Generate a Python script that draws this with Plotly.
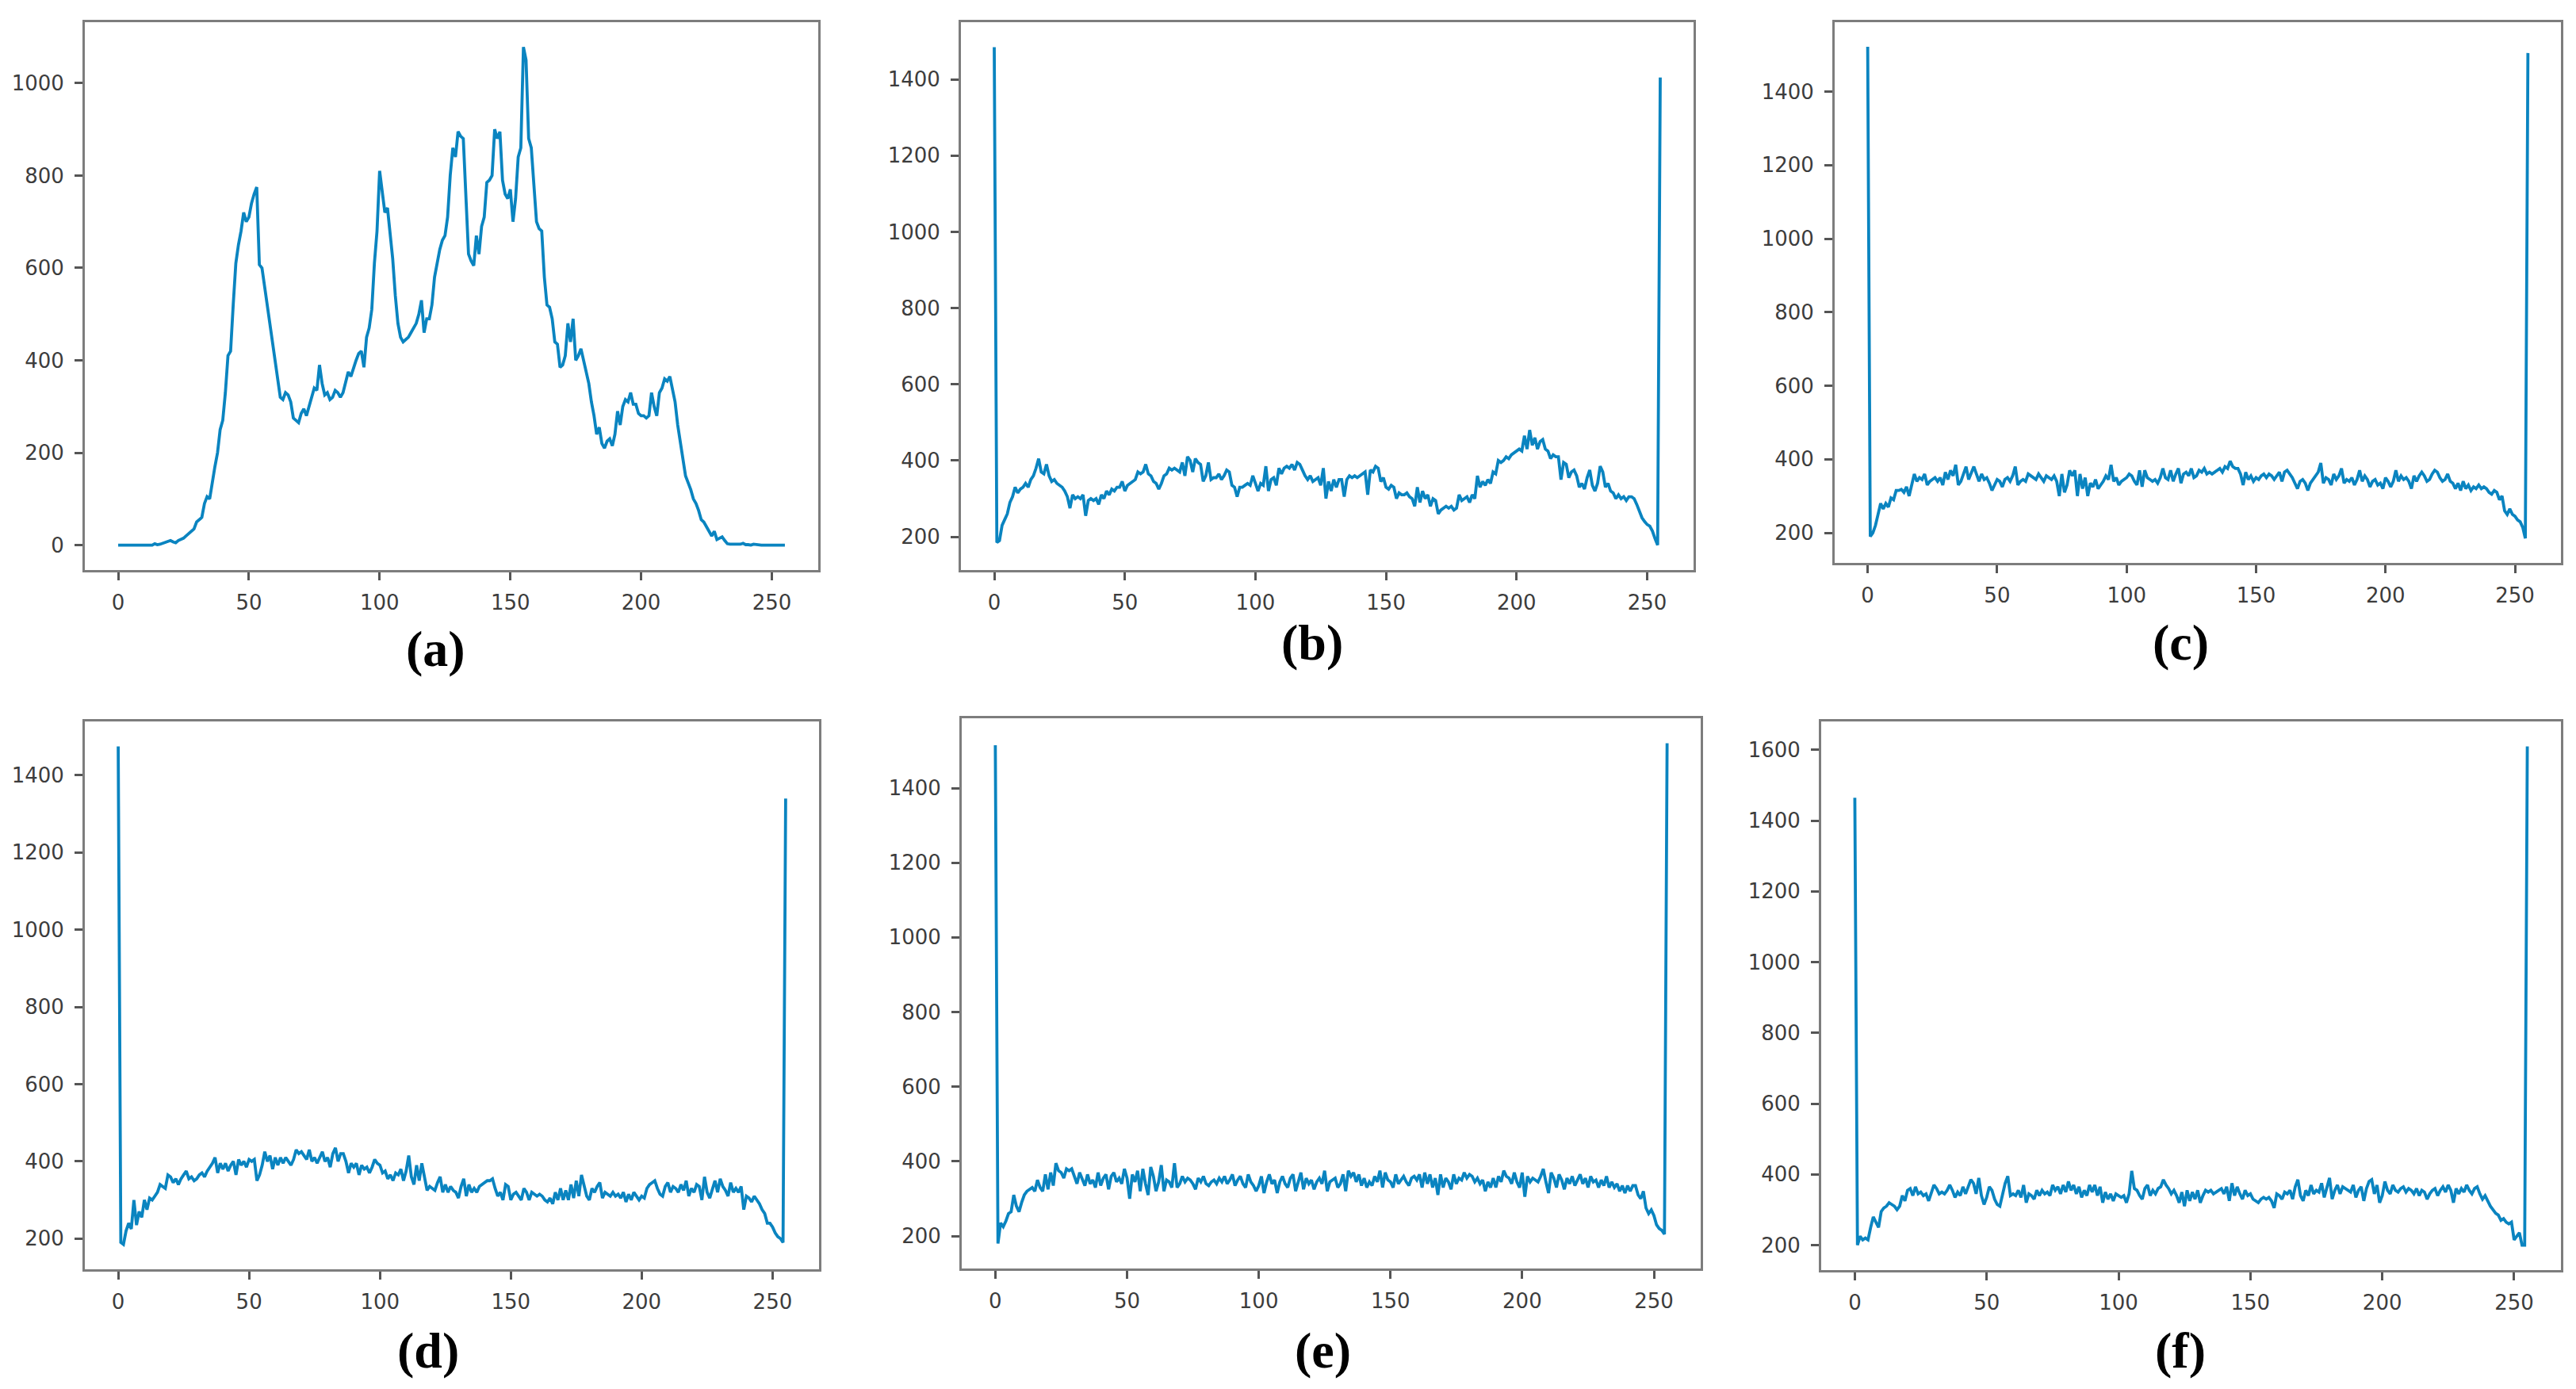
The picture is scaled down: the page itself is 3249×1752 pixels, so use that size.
import plotly.graph_objects as go

# ---------------- data (histogram counts, grey level 0..255) ----------------
hist_a = [
    0, 0, 0, 0, 0, 0, 0, 0, 0, 0, 0, 0, 0, 0, 3, 1,
    2, 4, 6, 8, 10, 7, 5, 10, 12, 15, 20, 25, 30, 35, 50, 55,
    60, 90, 105, 100, 140, 170, 200, 250, 270, 330, 410, 420, 520, 610, 650, 680,
    720, 700, 710, 740, 760, 775, 607, 600, 560, 520, 480, 430, 400, 360, 320, 315,
    330, 325, 310, 275, 270, 265, 285, 295, 280, 300, 325, 340, 335, 390, 350, 325,
    330, 315, 320, 335, 330, 320, 330, 350, 375, 365, 385, 400, 415, 420, 385, 450,
    470, 510, 610, 680, 810, 760, 720, 730, 680, 620, 540, 480, 450, 440, 445, 450,
    460, 470, 480, 500, 530, 460, 490, 490, 520, 580, 610, 640, 660, 670, 710, 800,
    860, 840, 895, 885, 880, 740, 630, 615, 605, 670, 630, 690, 710, 785, 790, 800,
    900, 880, 895, 790, 760, 750, 770, 700, 750, 840, 860, 1078, 1050, 880, 860, 780,
    700, 685, 680, 580, 520, 515, 490, 440, 435, 385, 390, 410, 480, 440, 490, 400,
    410, 425, 400, 370, 350, 310, 280, 240, 255, 220, 210, 225, 230, 215, 240, 290,
    260, 300, 315, 310, 330, 305, 305, 285, 280, 280, 275, 280, 330, 300, 280, 330,
    340, 360, 355, 365, 340, 310, 260, 220, 180, 150, 135, 120, 100, 90, 75, 55,
    50, 40, 30, 20, 30, 12, 15, 18, 10, 3, 2, 2, 3, 2, 2, 4,
    1, 1, 0, 2, 1, 0, 0, 0, 0, 0, 0, 0, 0, 0, 0, 0,
]
hist_b = [
    1485, 185, 190, 230, 245, 260, 290, 305, 330, 315, 325, 330, 340, 330, 350, 360,
    380, 405, 370, 365, 390, 360, 345, 350, 340, 335, 330, 320, 305, 275, 310, 300,
    305, 300, 310, 255, 295, 300, 295, 300, 285, 310, 300, 320, 310, 325, 320, 330,
    330, 345, 320, 335, 340, 345, 350, 370, 365, 370, 390, 365, 360, 345, 340, 325,
    340, 360, 365, 380, 375, 380, 375, 370, 395, 360, 410, 400, 370, 405, 395, 390,
    345, 360, 395, 350, 355, 355, 365, 350, 360, 375, 370, 335, 330, 305, 330, 330,
    335, 340, 335, 360, 340, 320, 340, 335, 385, 320, 350, 355, 335, 380, 365, 380,
    385, 380, 390, 375, 395, 390, 375, 360, 350, 360, 345, 350, 355, 335, 380, 300,
    345, 320, 350, 330, 350, 350, 305, 350, 360, 355, 360, 355, 360, 365, 370, 310,
    375, 370, 385, 380, 345, 355, 330, 325, 335, 330, 300, 315, 310, 310, 315, 305,
    300, 280, 330, 290, 320, 300, 310, 280, 300, 295, 260, 270, 275, 280, 275, 280,
    270, 275, 310, 295, 300, 305, 290, 310, 300, 360, 330, 345, 335, 350, 340, 370,
    365, 400, 395, 400, 410, 405, 415, 420, 425, 430, 425, 465, 430, 480, 440, 460,
    430, 450, 455, 430, 425, 405, 415, 410, 410, 350, 395, 390, 355, 370, 375, 360,
    330, 340, 325, 355, 375, 335, 320, 340, 385, 370, 330, 340, 320, 315, 300, 310,
    300, 305, 295, 305, 305, 300, 285, 265, 250, 240, 232, 228, 215, 195, 178, 1405,
]
hist_c = [
    1522, 190, 200, 220, 250, 280, 265, 280, 270, 295, 290, 315, 315, 318, 310, 325,
    300, 330, 360, 340, 350, 345, 360, 330, 340, 345, 350, 340, 350, 330, 365, 345,
    370, 355, 385, 330, 340, 360, 380, 345, 365, 380, 360, 340, 360, 345, 350, 335,
    315, 330, 345, 340, 325, 345, 350, 340, 355, 380, 330, 340, 345, 340, 360, 355,
    350, 345, 360, 350, 340, 355, 350, 345, 355, 340, 300, 360, 310, 330, 370, 355,
    370, 300, 360, 320, 350, 300, 335, 325, 345, 320, 330, 340, 355, 345, 385, 340,
    350, 330, 340, 345, 350, 360, 355, 340, 330, 370, 325, 370, 350, 345, 340, 345,
    335, 350, 375, 350, 345, 370, 340, 360, 375, 335, 360, 365, 355, 375, 350, 355,
    370, 365, 375, 360, 365, 360, 365, 370, 375, 365, 380, 375, 395, 380, 375, 375,
    360, 330, 365, 345, 355, 340, 350, 345, 355, 360, 350, 360, 355, 345, 355, 365,
    340, 365, 370, 360, 350, 335, 320, 340, 345, 335, 315, 335, 345, 355, 365, 390,
    335, 350, 345, 330, 360, 345, 355, 375, 335, 345, 340, 350, 330, 345, 370, 340,
    355, 345, 325, 340, 345, 330, 335, 320, 350, 340, 325, 340, 370, 340, 355, 345,
    350, 340, 320, 355, 340, 355, 365, 355, 340, 345, 360, 370, 365, 350, 340, 345,
    360, 340, 335, 320, 335, 315, 340, 320, 330, 315, 325, 320, 330, 320, 325, 320,
    310, 305, 315, 310, 290, 300, 260, 250, 265, 250, 245, 235, 230, 215, 185, 1505,
]
hist_d = [
    1475, 190, 185, 220, 240, 225, 300, 235, 270, 255, 300, 275, 305, 300, 310, 320,
    340, 335, 330, 365, 360, 345, 355, 340, 355, 365, 375, 355, 360, 350, 355, 365,
    370, 360, 375, 385, 395, 410, 370, 395, 380, 395, 375, 390, 400, 365, 405, 390,
    400, 385, 405, 400, 405, 350, 365, 390, 425, 400, 415, 380, 410, 390, 410, 395,
    410, 400, 390, 405, 430, 420, 425, 415, 405, 430, 400, 410, 395, 410, 425, 400,
    410, 385, 420, 435, 400, 420, 420, 400, 370, 395, 385, 395, 365, 390, 380, 385,
    370, 385, 405, 395, 390, 370, 375, 355, 365, 350, 370, 365, 380, 350, 375, 415,
    360, 340, 390, 350, 395, 360, 325, 335, 330, 325, 345, 360, 320, 340, 320, 335,
    325, 320, 305, 335, 355, 310, 340, 320, 330, 320, 335, 340, 345, 350, 350, 355,
    330, 310, 320, 300, 340, 335, 300, 315, 320, 310, 300, 330, 320, 300, 320, 315,
    310, 315, 310, 300, 295, 305, 290, 320, 300, 330, 300, 325, 300, 340, 305, 350,
    310, 365, 340, 310, 300, 330, 320, 335, 345, 305, 320, 315, 310, 320, 310, 315,
    305, 320, 295, 315, 300, 320, 310, 300, 310, 305, 330, 340, 345, 350, 330, 315,
    310, 335, 345, 320, 335, 330, 320, 340, 325, 350, 310, 330, 320, 340, 335, 300,
    360, 320, 305, 330, 350, 320, 355, 335, 325, 310, 345, 320, 330, 320, 335, 275,
    310, 305, 295, 310, 300, 290, 275, 265, 240, 240, 230, 215, 205, 200, 190, 1340,
]
hist_e = [
    1515, 180, 235, 225, 240, 260, 265, 310, 280, 265, 290, 310, 320, 325, 330, 320,
    350, 330, 320, 365, 325, 370, 335, 395, 375, 370, 355, 380, 375, 380, 360, 340,
    370, 350, 335, 365, 340, 350, 330, 370, 335, 355, 365, 325, 360, 370, 345, 355,
    340, 380, 355, 300, 365, 345, 375, 320, 380, 340, 310, 385, 360, 320, 345, 390,
    320, 350, 345, 330, 395, 330, 340, 360, 345, 355, 350, 340, 325, 355, 345, 360,
    340, 335, 345, 350, 340, 355, 345, 360, 340, 350, 365, 335, 350, 360, 340, 330,
    365, 345, 335, 320, 335, 360, 315, 345, 365, 340, 350, 315, 345, 360, 340, 330,
    355, 365, 320, 345, 370, 325, 355, 340, 350, 325, 345, 355, 340, 375, 320, 345,
    350, 355, 330, 340, 365, 320, 375, 360, 370, 345, 365, 335, 355, 330, 345, 335,
    360, 345, 375, 330, 370, 350, 345, 330, 365, 340, 350, 360, 345, 335, 355, 360,
    350, 365, 330, 370, 340, 365, 330, 355, 310, 365, 330, 355, 345, 325, 365, 340,
    355, 350, 370, 355, 365, 360, 345, 355, 340, 350, 320, 345, 330, 355, 330, 360,
    345, 375, 360, 355, 340, 370, 345, 330, 370, 305, 360, 345, 355, 350, 345, 360,
    380, 345, 315, 370, 355, 330, 365, 350, 325, 355, 340, 360, 335, 350, 365, 340,
    355, 330, 360, 345, 350, 330, 350, 335, 360, 330, 345, 330, 340, 320, 335, 315,
    335, 320, 335, 335, 310, 300, 320, 275, 260, 270, 255, 230, 220, 215, 205, 1520,
]
hist_f = [
    1465, 200, 225, 215, 220, 215, 250, 280, 265, 250, 295, 305, 310, 320, 315, 310,
    300, 310, 340, 325, 355, 360, 340, 365, 345, 350, 340, 345, 325, 345, 370, 360,
    345, 350, 345, 355, 370, 355, 335, 350, 340, 365, 345, 365, 385, 375, 345, 390,
    340, 315, 335, 365, 355, 330, 315, 310, 340, 375, 395, 340, 345, 340, 355, 335,
    370, 320, 345, 340, 330, 355, 340, 355, 345, 350, 340, 370, 355, 365, 345, 370,
    350, 380, 355, 370, 345, 365, 335, 355, 340, 370, 350, 370, 340, 365, 320, 350,
    330, 345, 325, 345, 340, 335, 340, 320, 345, 410, 360, 355, 340, 330, 360, 370,
    340, 355, 345, 360, 365, 385, 370, 360, 345, 355, 340, 320, 350, 310, 355, 325,
    350, 330, 355, 320, 340, 355, 350, 355, 345, 350, 355, 360, 345, 365, 325, 375,
    340, 365, 345, 330, 355, 340, 345, 330, 325, 320, 330, 335, 330, 335, 325, 305,
    345, 340, 330, 350, 345, 355, 330, 365, 385, 340, 325, 355, 340, 370, 345, 355,
    350, 375, 335, 365, 390, 330, 355, 370, 345, 365, 360, 355, 350, 370, 335, 355,
    365, 325, 360, 380, 385, 345, 370, 320, 340, 380, 355, 345, 370, 355, 350, 360,
    365, 350, 360, 355, 345, 360, 340, 355, 350, 330, 345, 355, 360, 340, 355, 365,
    350, 370, 355, 320, 360, 345, 360, 350, 370, 355, 345, 360, 365, 345, 330, 340,
    325, 310, 300, 290, 285, 270, 275, 265, 260, 265, 215, 225, 235, 200, 200, 1610,
]

panel_labels = ["(a)", "(b)", "(c)", "(d)", "(e)", "(f)"]
x_ticks = [0, 50, 100, 150, 200, 250]
y_ticks_a = [0, 200, 400, 600, 800, 1000]
y_ticks_bcde = [200, 400, 600, 800, 1000, 1200, 1400]
y_ticks_f = [200, 400, 600, 800, 1000, 1200, 1400, 1600]

series = [hist_a, hist_b, hist_c, hist_d, hist_e, hist_f]
y_ticks = [y_ticks_a, y_ticks_bcde, y_ticks_bcde, y_ticks_bcde, y_ticks_bcde, y_ticks_f]
for lab, s in zip(panel_labels, series):
    if len(s) != 256:
        raise ValueError(f"{lab} has {len(s)} values")

# ---------------- layout geometry ----------------
# target positions are page pixels of the 3249 x 1752 window; the page body
# has an 8 px default margin, so the figure itself is offset by that amount.
PAGE_W, PAGE_H = 3249, 1752
OFF = 8
W, H = PAGE_W - 2 * OFF, PAGE_H - 2 * OFF
boxes = [  # (left, right, top, bottom) in page pixels
    (107, 1032, 28, 719),
    (1212, 2136, 28, 719),
    (2314, 3230, 28, 710),
    (107, 1033, 910, 1601),
    (1213, 2145, 906, 1600),
    (2297, 3230, 910, 1602),
]
label_pos = [(549, 818), (1655, 811), (2750, 811), (540, 1703), (1669, 1703), (2750, 1703)]

LINE_COLOR = "#0a84c0"
AX_COLOR = "#7d7d7d"
TICK_FONT = dict(family="DejaVu Sans", size=26, color="#3c3c3c")

fig = go.Figure()
layout = dict(
    width=W, height=H,
    margin=dict(l=0, r=0, t=0, b=0),
    paper_bgcolor="white", plot_bgcolor="white",
    showlegend=False,
    annotations=[],
)

for i, (vals, ticks, box, lab, lp) in enumerate(zip(series, y_ticks, boxes, panel_labels, label_pos)):
    n = i + 1
    xs = list(range(len(vals)))
    fig.add_trace(go.Scatter(
        x=xs, y=vals, mode="lines",
        line=dict(color=LINE_COLOR, width=3.8),
        xaxis=f"x{n}", yaxis=f"y{n}",
    ))
    lo, hi = min(vals), max(vals)
    span = hi - lo
    xspan = xs[-1] - xs[0]
    l, r, t, b = [v - OFF for v in box]
    common = dict(
        showline=True, mirror=True, linecolor=AX_COLOR, linewidth=3,
        showgrid=False, zeroline=False,
        ticks="outside", ticklen=10, tickwidth=2.5, tickcolor="#555555",
        tickfont=TICK_FONT,
    )
    layout[f"xaxis{n}"] = dict(
        common,
        domain=[l / W, r / W],
        range=[xs[0] - 0.05 * xspan, xs[-1] + 0.05 * xspan],
        tickvals=x_ticks,
        anchor=f"y{n}",
        ticklabelstandoff=6,
    )
    layout[f"yaxis{n}"] = dict(
        common,
        domain=[1 - b / H, 1 - t / H],
        range=[lo - 0.05 * span, hi + 0.05 * span],
        tickvals=ticks,
        anchor=f"x{n}",
        ticklabelstandoff=8,
    )
    layout["annotations"].append(dict(
        text=f"<b>{lab}</b>",
        xref="paper", yref="paper",
        x=(lp[0] - OFF) / W, y=1 - (lp[1] - OFF) / H,
        xanchor="center", yanchor="middle",
        showarrow=False,
        font=dict(family="Liberation Serif", size=64, color="black"),
    ))

fig.update_layout(**layout)
fig.write_html("out.html")
